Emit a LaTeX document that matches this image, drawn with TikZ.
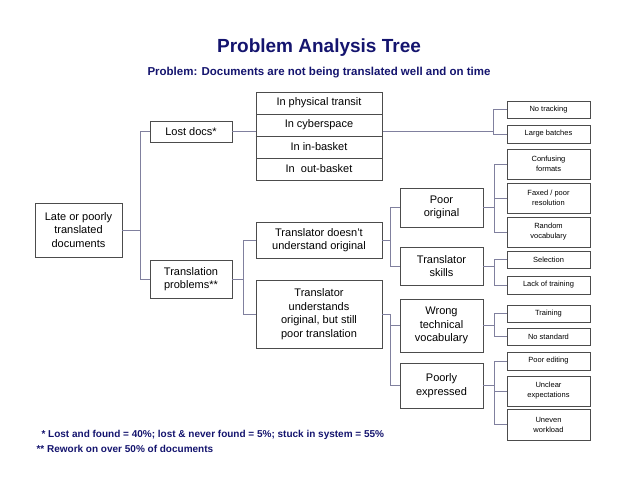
\documentclass[tikz,border=0pt]{standalone}
\usepackage{fontspec}
\setmainfont{Liberation Sans}
\definecolor{lc}{RGB}{128,128,158}
\definecolor{navy}{RGB}{20,20,110}
\begin{document}
\begin{tikzpicture}[x=1pt,y=-1pt,
  box/.style={draw=black!70,fill=white,line width=0.8pt,align=center,inner sep=1pt,font=\fontsize{11}{13.5}\selectfont},
  sbox/.style={draw=black!70,fill=white,line width=0.7pt,align=center,inner sep=1pt,font=\fontsize{7.5}{10}\selectfont},
  con/.style={draw=lc,line width=0.8pt},
  nv/.style={text=navy}]
\useasboundingbox (0,0) rectangle (638,493);
\newcommand\bx[7]{\node[#1,minimum width=#4-#3,minimum height=#6-#5] (#2) at ({(#3+#4)/2},{(#5+#6)/2}) {#7};}
\node[nv,font=\bfseries\fontsize{19}{22}\selectfont] (t) at (319,48) {Problem Analysis Tree};
\node[nv,font=\bfseries\fontsize{11.5}{14}\selectfont] (st) at (319,73) {Problem: Documents are not being translated well and on time};
\bx{box}{root}{35}{122}{203}{257}{Late or poorly\\translated\\documents}
\bx{box}{lost}{150}{232}{121}{142}{Lost docs*}
\bx{box}{tp}{150}{232}{260}{298}{Translation\\problems**}
\bx{box}{td}{256}{382}{222}{258}{Translator doesn't\\understand original}
\bx{box}{tu}{256}{382}{280}{348}{Translator\\understands\\original, but still\\poor translation}
\bx{box}{po}{400}{483}{188}{227}{Poor\\original}
\bx{box}{ts}{400}{483}{247}{285}{Translator\\skills}
\bx{box}{wt}{400}{483}{299}{352}{Wrong\\technical\\vocabulary}
\bx{box}{pe}{400}{483}{363}{408}{Poorly\\expressed}
\bx{sbox}{a1}{507}{590}{101}{118}{No tracking}
\bx{sbox}{a2}{507}{590}{125}{143}{Large batches}
\bx{sbox}{b1}{507}{590}{149}{179}{Confusing\\formats}
\bx{sbox}{b2}{507}{590}{183}{213}{Faxed / poor\\resolution}
\bx{sbox}{b3}{507}{590}{217}{247}{Random\\vocabulary}
\bx{sbox}{c1}{507}{590}{251}{268}{Selection}
\bx{sbox}{c2}{507}{590}{276}{294}{Lack of training}
\bx{sbox}{d1}{507}{590}{305}{322}{Training}
\bx{sbox}{d2}{507}{590}{328}{345}{No standard}
\bx{sbox}{e1}{507}{590}{352}{370}{Poor editing}
\bx{sbox}{e2}{507}{590}{376}{406}{Unclear\\expectations}
\bx{sbox}{e3}{507}{590}{409}{440}{Uneven\\workload}
% connectors
\begin{scope}[on background layer/.style={}]
\foreach \c in {lost,tp} \draw[con] (root.east) -- ++(18,0) |- (\c.west);
\foreach \c in {td,tu} \draw[con] (tp.east) -- ++(11,0) |- (\c.west);
\foreach \c in {po,ts} \draw[con] (td.east) -- ++(8,0) |- (\c.west);
\foreach \c in {wt,pe} \draw[con] (tu.east) -- ++(8,0) |- (\c.west);
\foreach \c in {a1,a2} \draw[con] (lost.east) -- (493,131.5) |- (\c.west);
\foreach \c in {b1,b2,b3} \draw[con] (po.east) -- ++(11,0) |- (\c.west);
\foreach \c in {c1,c2} \draw[con] (ts.east) -- ++(11,0) |- (\c.west);
\foreach \c in {d1,d2} \draw[con] (wt.east) -- ++(11,0) |- (\c.west);
\foreach \c in {e1,e2,e3} \draw[con] (pe.east) -- ++(11,0) |- (\c.west);
\end{scope}
% stack (line of lost docs passes behind, divider drawn on it)
\bx{box}{s1}{256}{382}{92}{114}{In physical transit}
\bx{box}{s2}{256}{382}{114}{136}{In cyberspace}
\bx{box}{s3}{256}{382}{136}{158}{In in-basket}
\bx{box}{s4}{256}{382}{158}{180}{In\ \ out-basket}
\draw[draw=black!70,line width=0.8pt] (s2.south west) -- (s2.south east);
\node[nv,font=\bfseries\fontsize{10}{12}\selectfont,anchor=west] (f1) at (38,435) {* Lost and found = 40\%; lost \& never found = 5\%; stuck in system = 55\%};
\node[nv,font=\bfseries\fontsize{10}{12}\selectfont,anchor=west] (f2) at (33,449) {** Rework on over 50\% of documents};
\end{tikzpicture}
\end{document}
